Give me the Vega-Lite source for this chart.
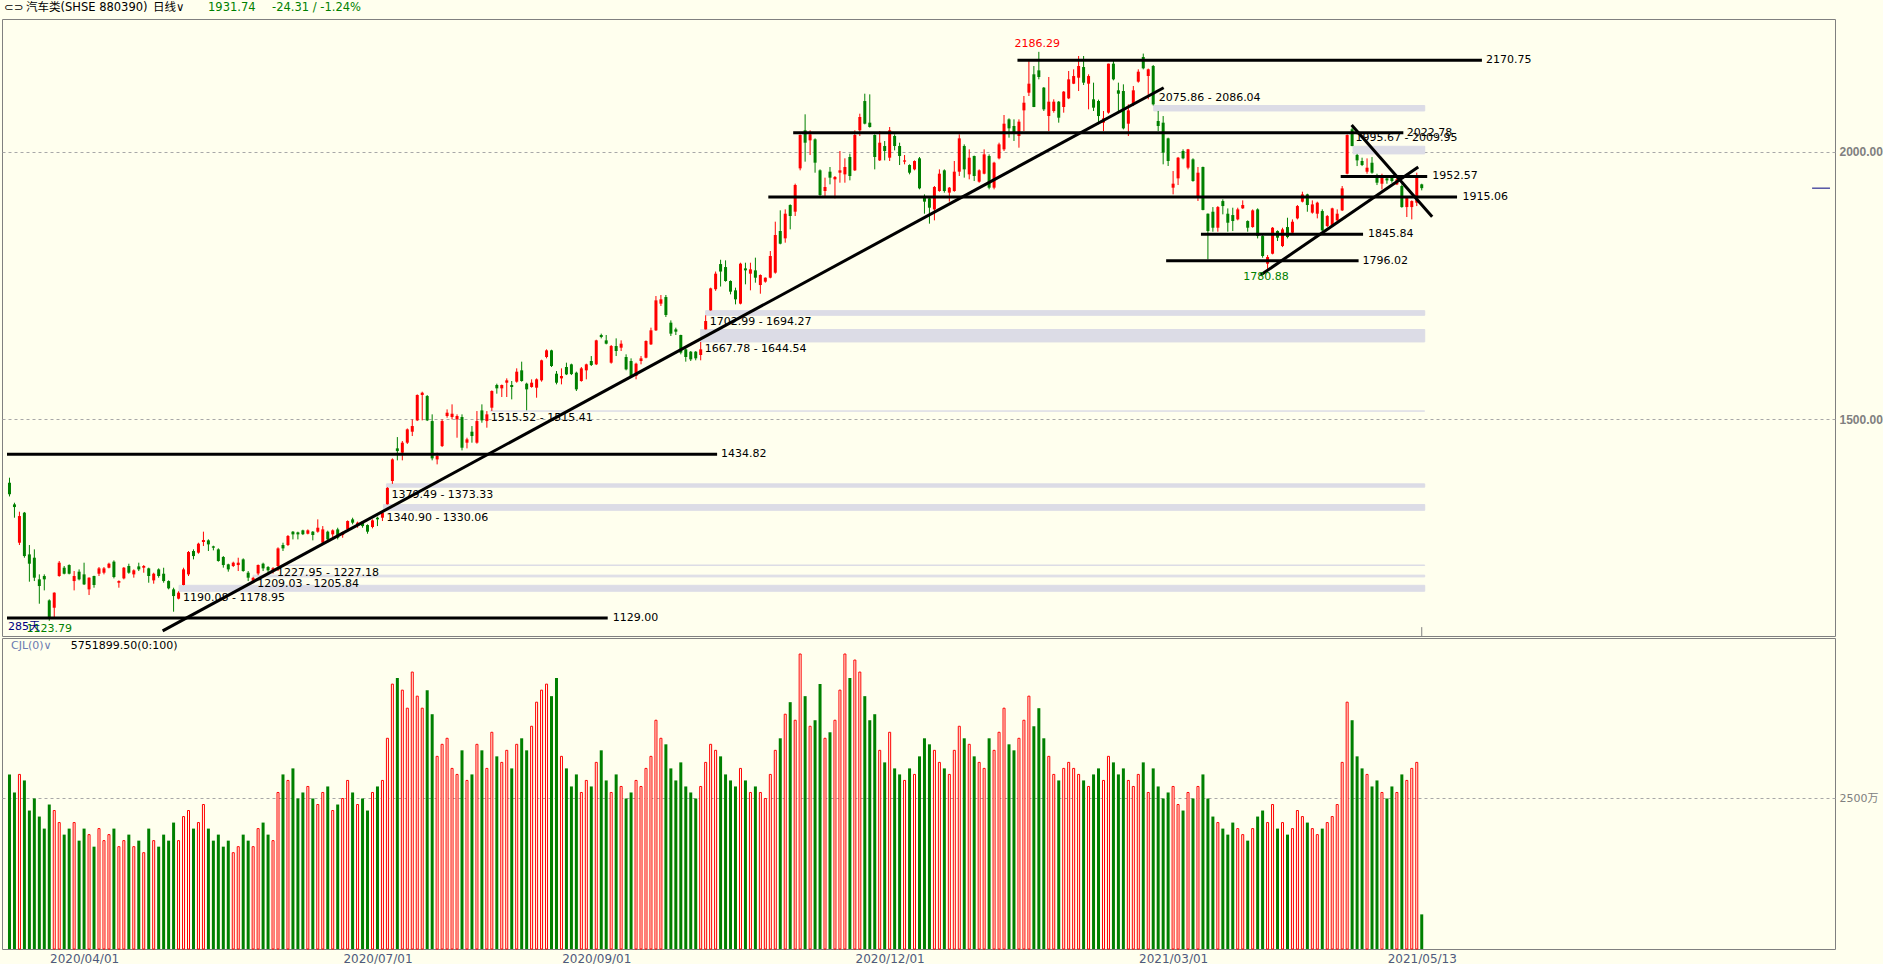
{
"$schema":"https://vega.github.io/schema/vega-lite/v6.json",
"background":"#FFFFEE",
"padding":{"left":1,"top":0,"right":0,"bottom":0},
"spacing":0,
"config":{"view":{"stroke":"#808080","strokeWidth":1},"font":"DejaVu Sans"},
"datasets":{
"k":[
{"i":0,"o":1381.7,"h":1391,"l":1356,"c":1359.9,"v":2900},
{"i":1,"o":1341.2,"h":1344.3,"l":1316.3,"c":1336.2,"v":2600},
{"i":2,"o":1269.6,"h":1327.5,"l":1265.3,"c":1319.4,"v":2900},
{"i":3,"o":1325.7,"h":1327,"l":1241.6,"c":1244.7,"v":2800},
{"i":4,"o":1247.8,"h":1265.3,"l":1196.8,"c":1230.4,"v":2300},
{"i":5,"o":1241.6,"h":1257.2,"l":1198,"c":1204.3,"v":2500},
{"i":6,"o":1201.2,"h":1210.5,"l":1155.7,"c":1188.7,"v":2200},
{"i":7,"o":1207.4,"h":1210.5,"l":1180.6,"c":1201.2,"v":2000},
{"i":8,"o":1161.9,"h":1163.8,"l":1123.8,"c":1129.6,"v":2400},
{"i":9,"o":1148.2,"h":1177,"l":1130.8,"c":1176.3,"v":2300},
{"i":10,"o":1207.4,"h":1235.4,"l":1206,"c":1232.3,"v":2100},
{"i":11,"o":1222.9,"h":1226.1,"l":1210.5,"c":1211.7,"v":1900},
{"i":12,"o":1227.9,"h":1229.2,"l":1210.5,"c":1211.7,"v":2000},
{"i":13,"o":1198,"h":1216.7,"l":1180.6,"c":1207.4,"v":2100},
{"i":14,"o":1215.5,"h":1219.8,"l":1199.3,"c":1201.2,"v":1800},
{"i":15,"o":1210.5,"h":1232.3,"l":1190.6,"c":1191.8,"v":2000},
{"i":16,"o":1182.5,"h":1205,"l":1171.9,"c":1204.3,"v":1900},
{"i":17,"o":1207.4,"h":1208,"l":1185.6,"c":1190.6,"v":1700},
{"i":18,"o":1211.7,"h":1224.2,"l":1207.4,"c":1221.7,"v":2000},
{"i":19,"o":1213.6,"h":1224.2,"l":1210.5,"c":1221.7,"v":1800},
{"i":20,"o":1222.9,"h":1232.3,"l":1221.7,"c":1230.4,"v":1900},
{"i":21,"o":1234.2,"h":1236.6,"l":1203,"c":1205.5,"v":2000},
{"i":22,"o":1194.9,"h":1199.3,"l":1185.6,"c":1198,"v":1700},
{"i":23,"o":1203,"h":1224.2,"l":1201.2,"c":1222.9,"v":1800},
{"i":24,"o":1226.1,"h":1230.4,"l":1211.7,"c":1213.6,"v":1900},
{"i":25,"o":1210.5,"h":1219.8,"l":1204.3,"c":1218,"v":1700},
{"i":26,"o":1225.4,"h":1232.3,"l":1216.7,"c":1219.8,"v":1800},
{"i":27,"o":1222.9,"h":1227.9,"l":1213.6,"c":1226.1,"v":1600},
{"i":28,"o":1221.7,"h":1223,"l":1194.9,"c":1207.4,"v":2000},
{"i":29,"o":1199.3,"h":1213.6,"l":1193.1,"c":1211.7,"v":1800},
{"i":30,"o":1219.8,"h":1221.7,"l":1204.3,"c":1207.4,"v":1700},
{"i":31,"o":1211.7,"h":1222.9,"l":1194.9,"c":1198,"v":1900},
{"i":32,"o":1198,"h":1199.3,"l":1182.5,"c":1184.4,"v":1800},
{"i":33,"o":1182.5,"h":1185.6,"l":1140.8,"c":1170,"v":2100},
{"i":34,"o":1165.1,"h":1178.95,"l":1163.8,"c":1176.3,"v":1800},
{"i":35,"o":1190.6,"h":1222.9,"l":1190.08,"c":1219.8,"v":2200},
{"i":36,"o":1210.5,"h":1254.1,"l":1207.4,"c":1252.2,"v":2300},
{"i":37,"o":1254.1,"h":1257.2,"l":1238.5,"c":1244.7,"v":2000},
{"i":38,"o":1251,"h":1269.6,"l":1249.1,"c":1267.8,"v":2100},
{"i":39,"o":1270.9,"h":1290.2,"l":1263.4,"c":1274.6,"v":2400},
{"i":40,"o":1274,"h":1275.9,"l":1254.1,"c":1266.5,"v":2000},
{"i":41,"o":1262.8,"h":1264,"l":1255.3,"c":1260.3,"v":1800},
{"i":42,"o":1257.2,"h":1259.1,"l":1234.2,"c":1235.4,"v":1900},
{"i":43,"o":1242.9,"h":1244.7,"l":1223,"c":1227.9,"v":1700},
{"i":44,"o":1229.2,"h":1230.4,"l":1215.5,"c":1219.8,"v":1800},
{"i":45,"o":1226.1,"h":1234.2,"l":1224.2,"c":1232.3,"v":1600},
{"i":46,"o":1227.9,"h":1241.6,"l":1216.7,"c":1232.3,"v":1700},
{"i":47,"o":1238.5,"h":1240.4,"l":1215.5,"c":1216.7,"v":1900},
{"i":48,"o":1213.6,"h":1216.7,"l":1198,"c":1204.3,"v":1800},
{"i":49,"o":1198.5,"h":1205.84,"l":1194,"c":1204,"v":1700},
{"i":50,"o":1212,"h":1229,"l":1209.03,"c":1227.9,"v":2000},
{"i":51,"o":1230.4,"h":1232.3,"l":1216.7,"c":1221.7,"v":2100},
{"i":52,"o":1224.2,"h":1226,"l":1214,"c":1218,"v":1900},
{"i":53,"o":1216,"h":1224,"l":1212,"c":1222,"v":1800},
{"i":54,"o":1226,"h":1261,"l":1216.7,"c":1259,"v":2600},
{"i":55,"o":1265.3,"h":1269.6,"l":1254.1,"c":1259,"v":2900},
{"i":56,"o":1265.3,"h":1284,"l":1263.4,"c":1282.1,"v":2800},
{"i":57,"o":1290.2,"h":1291.4,"l":1275.8,"c":1285.2,"v":3000},
{"i":58,"o":1288.9,"h":1290.2,"l":1275.8,"c":1285.2,"v":2500},
{"i":59,"o":1292.7,"h":1293.9,"l":1283.9,"c":1285.5,"v":2600},
{"i":60,"o":1286.4,"h":1294.5,"l":1285.2,"c":1292.7,"v":2700},
{"i":61,"o":1290.2,"h":1291.4,"l":1274,"c":1284,"v":2500},
{"i":62,"o":1290.2,"h":1313.2,"l":1288.3,"c":1297.6,"v":2400},
{"i":63,"o":1269.6,"h":1300.7,"l":1266.5,"c":1294.5,"v":2600},
{"i":64,"o":1290.2,"h":1292.1,"l":1269.6,"c":1275.8,"v":2700},
{"i":65,"o":1285.2,"h":1294.5,"l":1279,"c":1292.7,"v":2300},
{"i":66,"o":1294.5,"h":1297.6,"l":1275.8,"c":1278.9,"v":2400},
{"i":67,"o":1283.9,"h":1290.2,"l":1278.9,"c":1289.5,"v":2500},
{"i":68,"o":1294.5,"h":1311.3,"l":1291.4,"c":1310.1,"v":2800},
{"i":69,"o":1313.2,"h":1316.3,"l":1303.9,"c":1307,"v":2600},
{"i":70,"o":1302.6,"h":1308.9,"l":1297.6,"c":1307,"v":2400},
{"i":71,"o":1308.9,"h":1310.1,"l":1297.6,"c":1300.7,"v":2500},
{"i":72,"o":1302.6,"h":1303.9,"l":1286.4,"c":1290.2,"v":2300},
{"i":73,"o":1298.9,"h":1313.2,"l":1296.4,"c":1311.3,"v":2600},
{"i":74,"o":1316.3,"h":1318.2,"l":1300.7,"c":1313.2,"v":2700},
{"i":75,"o":1316.3,"h":1330.06,"l":1310.1,"c":1325.6,"v":2800},
{"i":76,"o":1341.5,"h":1373.33,"l":1340.9,"c":1372,"v":3500},
{"i":77,"o":1384.8,"h":1427.1,"l":1379.49,"c":1425.2,"v":4400},
{"i":78,"o":1445.8,"h":1466.9,"l":1423.4,"c":1440.8,"v":4500},
{"i":79,"o":1437.7,"h":1459.5,"l":1423.4,"c":1456.4,"v":4300},
{"i":80,"o":1456.4,"h":1483,"l":1454,"c":1481.3,"v":4000},
{"i":81,"o":1476.9,"h":1499.9,"l":1468.8,"c":1487.5,"v":4600},
{"i":82,"o":1498.1,"h":1546.6,"l":1496.8,"c":1545.4,"v":4200},
{"i":83,"o":1545.4,"h":1551.6,"l":1498.1,"c":1549.7,"v":4000},
{"i":84,"o":1543.5,"h":1545.4,"l":1496.8,"c":1498.1,"v":4300},
{"i":85,"o":1496.8,"h":1509.3,"l":1423.4,"c":1427.1,"v":3900},
{"i":86,"o":1425.2,"h":1437.7,"l":1415.9,"c":1431.5,"v":3200},
{"i":87,"o":1450.1,"h":1499.9,"l":1448.3,"c":1496.8,"v":3400},
{"i":88,"o":1506.2,"h":1518.6,"l":1503,"c":1512.4,"v":3500},
{"i":89,"o":1504.3,"h":1528,"l":1499.9,"c":1510.5,"v":3000},
{"i":90,"o":1499.9,"h":1509.3,"l":1465.7,"c":1506.2,"v":2900},
{"i":91,"o":1504.3,"h":1509.3,"l":1442,"c":1447,"v":3300},
{"i":92,"o":1456.4,"h":1465.7,"l":1445.8,"c":1462.6,"v":2800},
{"i":93,"o":1476.9,"h":1487.5,"l":1456.4,"c":1468.8,"v":2900},
{"i":94,"o":1456.4,"h":1515.5,"l":1454.5,"c":1496.8,"v":3400},
{"i":95,"o":1516.7,"h":1528,"l":1493.7,"c":1498.1,"v":3300},
{"i":96,"o":1496.8,"h":1515.41,"l":1484.4,"c":1509.3,"v":3000},
{"i":97,"o":1521.7,"h":1554.1,"l":1515.52,"c":1552.9,"v":3600},
{"i":98,"o":1564.1,"h":1566.6,"l":1547.9,"c":1557.9,"v":3200},
{"i":99,"o":1557.9,"h":1565,"l":1541.7,"c":1564.1,"v":3100},
{"i":100,"o":1568.4,"h":1576.5,"l":1541.7,"c":1572.8,"v":3300},
{"i":101,"o":1564.1,"h":1571.6,"l":1537.3,"c":1560.4,"v":3000},
{"i":102,"o":1570.3,"h":1595.2,"l":1568.4,"c":1589,"v":3400},
{"i":103,"o":1591.5,"h":1607.7,"l":1570.3,"c":1571.6,"v":3500},
{"i":104,"o":1566.6,"h":1568.4,"l":1516.8,"c":1556,"v":3300},
{"i":105,"o":1560.4,"h":1574.7,"l":1559.1,"c":1568.4,"v":3700},
{"i":106,"o":1559.1,"h":1576.5,"l":1540.4,"c":1574.7,"v":4100},
{"i":107,"o":1572.8,"h":1611.4,"l":1570.3,"c":1610.2,"v":4300},
{"i":108,"o":1616.4,"h":1630.7,"l":1613.9,"c":1628.8,"v":4400},
{"i":109,"o":1628.8,"h":1630,"l":1597.7,"c":1599.6,"v":4200},
{"i":110,"o":1585.2,"h":1590.2,"l":1565.3,"c":1568.4,"v":4500},
{"i":111,"o":1576.5,"h":1595.2,"l":1565.3,"c":1580.9,"v":3200},
{"i":112,"o":1597.7,"h":1605.8,"l":1582.7,"c":1584,"v":3000},
{"i":113,"o":1602.7,"h":1604,"l":1582.7,"c":1584.5,"v":2700},
{"i":114,"o":1587.1,"h":1589,"l":1552.9,"c":1556,"v":2900},
{"i":115,"o":1571.6,"h":1597.7,"l":1570.3,"c":1595.2,"v":2600},
{"i":116,"o":1591.5,"h":1604,"l":1574.7,"c":1602.7,"v":2800},
{"i":117,"o":1608.9,"h":1618.2,"l":1599.6,"c":1601.4,"v":2700},
{"i":118,"o":1602.7,"h":1648.7,"l":1601.4,"c":1647.5,"v":3100},
{"i":119,"o":1657.5,"h":1660,"l":1651.2,"c":1653.7,"v":3300},
{"i":120,"o":1647.5,"h":1657.5,"l":1640,"c":1641.3,"v":2800},
{"i":121,"o":1605.8,"h":1638.8,"l":1604,"c":1636.9,"v":2600},
{"i":122,"o":1636.9,"h":1651.2,"l":1618.2,"c":1627.6,"v":2900},
{"i":123,"o":1633.8,"h":1647.5,"l":1627.6,"c":1641.3,"v":2700},
{"i":124,"o":1616.4,"h":1621.4,"l":1591.5,"c":1593.3,"v":2500},
{"i":125,"o":1608.9,"h":1613.9,"l":1577.8,"c":1580.9,"v":2600},
{"i":126,"o":1580.9,"h":1605.8,"l":1574.7,"c":1603.9,"v":2800},
{"i":127,"o":1608.9,"h":1618.2,"l":1602.7,"c":1613.9,"v":2700},
{"i":128,"o":1615.1,"h":1647.5,"l":1613.9,"c":1646.3,"v":3000},
{"i":129,"o":1640,"h":1671.2,"l":1638.8,"c":1666.2,"v":3200},
{"i":130,"o":1666.2,"h":1730.3,"l":1665,"c":1722.2,"v":3800},
{"i":131,"o":1716,"h":1732.2,"l":1711.6,"c":1724.1,"v":3500},
{"i":132,"o":1728.4,"h":1732.2,"l":1691.1,"c":1694.8,"v":3400},
{"i":133,"o":1680.5,"h":1684.8,"l":1655.6,"c":1660,"v":3000},
{"i":134,"o":1668,"h":1671.2,"l":1657.5,"c":1663.7,"v":2800},
{"i":135,"o":1657.5,"h":1658,"l":1621.4,"c":1624.5,"v":3100},
{"i":136,"o":1630.7,"h":1633.8,"l":1607.7,"c":1616.4,"v":2700},
{"i":137,"o":1626.3,"h":1627.6,"l":1608.9,"c":1612,"v":2600},
{"i":138,"o":1626.3,"h":1627.6,"l":1610.2,"c":1613.9,"v":2500},
{"i":139,"o":1620.1,"h":1644.54,"l":1610.2,"c":1630.7,"v":2700},
{"i":140,"o":1668,"h":1694.27,"l":1667.78,"c":1683.6,"v":3100},
{"i":141,"o":1703.5,"h":1745.9,"l":1702.99,"c":1744.6,"v":3400},
{"i":142,"o":1743,"h":1776,"l":1740,"c":1772,"v":3300},
{"i":143,"o":1790,"h":1798,"l":1748,"c":1776,"v":3200},
{"i":144,"o":1784.4,"h":1796.9,"l":1757,"c":1758.3,"v":2900},
{"i":145,"o":1758.3,"h":1759.5,"l":1733.4,"c":1738.4,"v":2800},
{"i":146,"o":1740.9,"h":1745.9,"l":1714.7,"c":1724.1,"v":2700},
{"i":147,"o":1716,"h":1792.5,"l":1714.7,"c":1790.7,"v":3000},
{"i":148,"o":1781.9,"h":1792.5,"l":1752.1,"c":1778.2,"v":2800},
{"i":149,"o":1772,"h":1792.5,"l":1740.9,"c":1780.1,"v":2600},
{"i":150,"o":1778.2,"h":1801.9,"l":1755.2,"c":1764.5,"v":2700},
{"i":151,"o":1750.8,"h":1770.7,"l":1734.6,"c":1769.5,"v":2600},
{"i":152,"o":1757.1,"h":1765,"l":1755.2,"c":1764.5,"v":2500},
{"i":153,"o":1764.5,"h":1814.3,"l":1763.3,"c":1805,"v":2900},
{"i":154,"o":1773.9,"h":1869.1,"l":1772,"c":1844.2,"v":3300},
{"i":155,"o":1851.7,"h":1890.3,"l":1826.8,"c":1828,"v":3500},
{"i":156,"o":1838,"h":1892.1,"l":1829.9,"c":1884,"v":3900},
{"i":157,"o":1900.2,"h":1901.5,"l":1854.8,"c":1879.7,"v":4100},
{"i":158,"o":1887.8,"h":1940.1,"l":1879.7,"c":1937.6,"v":3800},
{"i":159,"o":1968.7,"h":2032.2,"l":1965,"c":2031,"v":4900},
{"i":160,"o":2039.7,"h":2069.6,"l":1981.2,"c":2016.6,"v":4200},
{"i":161,"o":2021,"h":2039.7,"l":1993.6,"c":2032.2,"v":3700},
{"i":162,"o":2022.9,"h":2024.7,"l":1960.6,"c":1979.3,"v":3800},
{"i":163,"o":1965,"h":1966.8,"l":1917,"c":1918.9,"v":4400},
{"i":164,"o":1926.4,"h":1951.3,"l":1917,"c":1933.9,"v":3500},
{"i":165,"o":1962.5,"h":1971.2,"l":1938.8,"c":1951.3,"v":3600},
{"i":166,"o":1948.2,"h":1954.4,"l":1912.7,"c":1952.5,"v":3800},
{"i":167,"o":1960.6,"h":2001.1,"l":1941.9,"c":1965,"v":4300},
{"i":168,"o":1957.5,"h":1987.4,"l":1941.9,"c":1971.2,"v":4900},
{"i":169,"o":1989.9,"h":1996.1,"l":1946.3,"c":1954.4,"v":4500},
{"i":170,"o":1965,"h":2039.7,"l":1963.7,"c":2031,"v":4800},
{"i":171,"o":2039.7,"h":2070.8,"l":2029.1,"c":2064.6,"v":4600},
{"i":172,"o":2094.4,"h":2108.1,"l":2050.9,"c":2052.1,"v":4200},
{"i":173,"o":2054,"h":2106.9,"l":2044.7,"c":2045.9,"v":3800},
{"i":174,"o":2031,"h":2032.2,"l":1966.8,"c":1989.9,"v":3900},
{"i":175,"o":1983.6,"h":2038.4,"l":1982.4,"c":2016.6,"v":3300},
{"i":176,"o":2010.4,"h":2019.7,"l":1983.6,"c":2001.1,"v":3100},
{"i":177,"o":1988.6,"h":2045.9,"l":1982.4,"c":2039.7,"v":3600},
{"i":178,"o":2029.1,"h":2032.2,"l":2002.3,"c":2010.4,"v":3000},
{"i":179,"o":2010.4,"h":2016.6,"l":1974.9,"c":1991.8,"v":2900},
{"i":180,"o":1981.2,"h":1993.6,"l":1976.2,"c":1983.6,"v":2800},
{"i":181,"o":1974.9,"h":1976.2,"l":1957.5,"c":1960.6,"v":3000},
{"i":182,"o":1966.8,"h":1983.6,"l":1965,"c":1982.4,"v":2900},
{"i":183,"o":1987.4,"h":1989.9,"l":1929.5,"c":1931.4,"v":3200},
{"i":184,"o":1917,"h":1920.1,"l":1884,"c":1906.5,"v":3500},
{"i":185,"o":1912.7,"h":1913.9,"l":1865.4,"c":1895.2,"v":3400},
{"i":186,"o":1892.1,"h":1935.7,"l":1871.6,"c":1933.9,"v":3300},
{"i":187,"o":1926.4,"h":1966.8,"l":1925,"c":1958.7,"v":3100},
{"i":188,"o":1965,"h":1966.8,"l":1923.3,"c":1926.4,"v":3000},
{"i":189,"o":1923.3,"h":1933.9,"l":1906.5,"c":1932.6,"v":2900},
{"i":190,"o":1926.4,"h":1982.4,"l":1925,"c":1962.5,"v":3300},
{"i":191,"o":1962.5,"h":2032.2,"l":1954.4,"c":2024.7,"v":3700},
{"i":192,"o":2010.4,"h":2013.5,"l":1951.3,"c":1966.8,"v":3500},
{"i":193,"o":1957.5,"h":2004.2,"l":1948.2,"c":1988.6,"v":3400},
{"i":194,"o":1991.7,"h":1992.5,"l":1945,"c":1954.4,"v":3200},
{"i":195,"o":1943.8,"h":1966.8,"l":1941.9,"c":1965,"v":3100},
{"i":196,"o":1958.7,"h":2004.2,"l":1957.5,"c":1994.8,"v":3000},
{"i":197,"o":1991.7,"h":1994.8,"l":1929.5,"c":1932.6,"v":3500},
{"i":198,"o":1932.6,"h":1981,"l":1929.5,"c":1979.3,"v":3300},
{"i":199,"o":1987.4,"h":2016.6,"l":1985.5,"c":2013.5,"v":3600},
{"i":200,"o":2004.2,"h":2068.3,"l":2001.1,"c":2052.1,"v":4000},
{"i":201,"o":2060.2,"h":2062.1,"l":2026,"c":2043.4,"v":3400},
{"i":202,"o":2047.8,"h":2060.2,"l":2019.8,"c":2035.3,"v":3300},
{"i":203,"o":2029.1,"h":2060.2,"l":2007.3,"c":2055.9,"v":3500},
{"i":204,"o":2077,"h":2103.8,"l":2038.4,"c":2091.3,"v":3800},
{"i":205,"o":2110,"h":2170.4,"l":2103.8,"c":2126.8,"v":4200},
{"i":206,"o":2144.3,"h":2159.8,"l":2083,"c":2083.3,"v":3700},
{"i":207,"o":2151.7,"h":2186.29,"l":2134.9,"c":2139.3,"v":4000},
{"i":208,"o":2119.4,"h":2120.6,"l":2075.8,"c":2078.9,"v":3500},
{"i":209,"o":2066.4,"h":2139.3,"l":2038.4,"c":2093.2,"v":3200},
{"i":210,"o":2075.8,"h":2097.6,"l":2072.7,"c":2093.2,"v":2900},
{"i":211,"o":2093.2,"h":2094.5,"l":2054,"c":2063.3,"v":2800},
{"i":212,"o":2083.3,"h":2113.1,"l":2072.7,"c":2111.9,"v":3000},
{"i":213,"o":2099.4,"h":2150.5,"l":2098,"c":2134.9,"v":3100},
{"i":214,"o":2126.8,"h":2153.6,"l":2126,"c":2141.1,"v":3000},
{"i":215,"o":2138,"h":2178.5,"l":2113.1,"c":2159.8,"v":2900},
{"i":216,"o":2157.9,"h":2178.5,"l":2124.3,"c":2128.7,"v":2800},
{"i":217,"o":2126.8,"h":2144.3,"l":2078.9,"c":2141.1,"v":2700},
{"i":218,"o":2097.6,"h":2128.7,"l":2075.8,"c":2082,"v":2900},
{"i":219,"o":2094.5,"h":2097,"l":2050.9,"c":2066.4,"v":3000},
{"i":220,"o":2054,"h":2075.8,"l":2038.4,"c":2062.1,"v":2800},
{"i":221,"o":2072.7,"h":2164.2,"l":2070.8,"c":2164.2,"v":3200},
{"i":222,"o":2164.2,"h":2172.3,"l":2133,"c":2134.9,"v":3100},
{"i":223,"o":2114.4,"h":2128.7,"l":2072.7,"c":2108.1,"v":2900},
{"i":224,"o":2113.1,"h":2125.6,"l":2041.5,"c":2043.4,"v":3000},
{"i":225,"o":2052.1,"h":2088.2,"l":2029.1,"c":2077,"v":2800},
{"i":226,"o":2087,"h":2122.5,"l":2085,"c":2114.4,"v":2700},
{"i":227,"o":2130.6,"h":2153.6,"l":2128.7,"c":2149.2,"v":2900},
{"i":228,"o":2176.6,"h":2183,"l":2153.6,"c":2155.5,"v":3100},
{"i":229,"o":2141.1,"h":2155,"l":2097.6,"c":2153.6,"v":2600},
{"i":230,"o":2159.8,"h":2161.7,"l":2086.04,"c":2088.2,"v":3000},
{"i":231,"o":2057.1,"h":2075.86,"l":2038.4,"c":2047.8,"v":2700},
{"i":232,"o":2054,"h":2066.4,"l":1976.2,"c":1998,"v":2500},
{"i":233,"o":2024.7,"h":2026,"l":1973.1,"c":1982.4,"v":2600},
{"i":234,"o":1932.6,"h":1963.7,"l":1920.1,"c":1940.1,"v":2700},
{"i":235,"o":1950,"h":1990,"l":1937.6,"c":1988.6,"v":2400},
{"i":236,"o":2001.1,"h":2004.2,"l":1985.5,"c":1987.4,"v":2300},
{"i":237,"o":1969.9,"h":2005,"l":1966.8,"c":2004.2,"v":2600},
{"i":238,"o":1985.5,"h":1987.4,"l":1943.8,"c":1945,"v":2500},
{"i":239,"o":1913.9,"h":1971.2,"l":1907.7,"c":1960.6,"v":2700},
{"i":240,"o":1971.2,"h":1972,"l":1890.3,"c":1891,"v":2900},
{"i":241,"o":1884,"h":1884.5,"l":1798.7,"c":1851.6,"v":2500},
{"i":242,"o":1887.7,"h":1896.4,"l":1850.4,"c":1857.8,"v":2200},
{"i":243,"o":1857.8,"h":1898.3,"l":1850.4,"c":1896.4,"v":2100},
{"i":244,"o":1907.6,"h":1910.8,"l":1882.8,"c":1898.3,"v":2000},
{"i":245,"o":1884,"h":1893.9,"l":1850.4,"c":1867.2,"v":1900},
{"i":246,"o":1881.5,"h":1895.2,"l":1851.6,"c":1870.3,"v":2100},
{"i":247,"o":1873.4,"h":1895.2,"l":1871.6,"c":1892.1,"v":2000},
{"i":248,"o":1894,"h":1908.9,"l":1893,"c":1900.2,"v":1900},
{"i":249,"o":1870.3,"h":1871.6,"l":1850.4,"c":1857.8,"v":1800},
{"i":250,"o":1859.1,"h":1892.1,"l":1857.8,"c":1890.2,"v":2000},
{"i":251,"o":1892.1,"h":1894,"l":1837.9,"c":1842.3,"v":2200},
{"i":252,"o":1842.3,"h":1845.4,"l":1801.8,"c":1805,"v":2300},
{"i":253,"o":1790.6,"h":1806.8,"l":1780.88,"c":1803.1,"v":2100},
{"i":254,"o":1809.3,"h":1859.1,"l":1808.1,"c":1857.8,"v":2400},
{"i":255,"o":1851.6,"h":1852.9,"l":1833,"c":1839.2,"v":2000},
{"i":256,"o":1823.6,"h":1857.8,"l":1821.7,"c":1854.7,"v":2100},
{"i":257,"o":1859.1,"h":1876.5,"l":1837.9,"c":1840.4,"v":1900},
{"i":258,"o":1848.5,"h":1873.4,"l":1845.4,"c":1869,"v":2000},
{"i":259,"o":1875.3,"h":1900.2,"l":1873.4,"c":1898.3,"v":2300},
{"i":260,"o":1906.4,"h":1925.1,"l":1905,"c":1920.1,"v":2200},
{"i":261,"o":1920.1,"h":1921.3,"l":1887.7,"c":1900.2,"v":2100},
{"i":262,"o":1885.9,"h":1908.9,"l":1884,"c":1901.4,"v":2000},
{"i":263,"o":1884,"h":1906.4,"l":1875.3,"c":1904.6,"v":1900},
{"i":264,"o":1889,"h":1892.1,"l":1851.6,"c":1852.9,"v":2000},
{"i":265,"o":1861,"h":1881.5,"l":1859.1,"c":1879.6,"v":2100},
{"i":266,"o":1862.8,"h":1895.2,"l":1861,"c":1894,"v":2200},
{"i":267,"o":1871.6,"h":1892.1,"l":1870.3,"c":1884,"v":2400},
{"i":268,"o":1890.2,"h":1935.7,"l":1889,"c":1931.3,"v":3100},
{"i":269,"o":1958.7,"h":2032.2,"l":1957.5,"c":2030.9,"v":4100},
{"i":270,"o":2041.5,"h":2044.6,"l":2009.95,"c":2010.4,"v":3800},
{"i":271,"o":1993.6,"h":1995.67,"l":1973,"c":1983.6,"v":3200},
{"i":272,"o":1982.4,"h":1988.6,"l":1973,"c":1974.9,"v":3000},
{"i":273,"o":1962.4,"h":1987.3,"l":1958.7,"c":1969.9,"v":2900},
{"i":274,"o":1979.2,"h":1989.8,"l":1958.7,"c":1960.6,"v":2700},
{"i":275,"o":1952.5,"h":1958.7,"l":1937.5,"c":1941.9,"v":2800},
{"i":276,"o":1940,"h":1958.7,"l":1929.4,"c":1956.2,"v":2600},
{"i":277,"o":1950,"h":1954.4,"l":1940,"c":1946.2,"v":2500},
{"i":278,"o":1951.2,"h":1956.2,"l":1941.9,"c":1945,"v":2700},
{"i":279,"o":1938.8,"h":1954.4,"l":1937.5,"c":1948.1,"v":2600},
{"i":280,"o":1935.7,"h":1938.8,"l":1895.2,"c":1896.4,"v":2900},
{"i":281,"o":1896.4,"h":1915.1,"l":1877.8,"c":1913.9,"v":2800},
{"i":282,"o":1896.4,"h":1908.9,"l":1873.4,"c":1907.6,"v":3000},
{"i":283,"o":1904.6,"h":1960.6,"l":1898.3,"c":1956.05,"v":3100},
{"i":284,"o":1938.8,"h":1940,"l":1927.6,"c":1931.74,"v":575.19}
],
"lines":[
{"x1":-0.5,"x2":142.3,"y1":1434.82,"y2":1434.82},
{"x1":-0.5,"x2":120.3,"y1":1129,"y2":1129},
{"x1":202.7,"x2":296.1,"y1":2170.75,"y2":2170.75},
{"x1":157.6,"x2":280.3,"y1":2035,"y2":2035},
{"x1":152.6,"x2":291.1,"y1":1915.06,"y2":1915.06},
{"x1":267.7,"x2":285.1,"y1":1953.5,"y2":1953.5},
{"x1":239.6,"x2":272.2,"y1":1845.84,"y2":1845.84},
{"x1":232.6,"x2":271.3,"y1":1796.02,"y2":1796.02},
{"x1":30.8,"x2":232.1,"y1":1105,"y2":2119.3},
{"x1":251.6,"x2":283.3,"y1":1769.5,"y2":1971.2},
{"x1":269.9,"x2":286.1,"y1":2049.6,"y2":1878.4}
],
"gaps":[
{"x1":34.1,"x2":284.6,"lo":1178.95,"hi":1190.08},
{"x1":49.0,"x2":284.6,"lo":1205.84,"hi":1209.03},
{"x1":54.6,"x2":284.6,"lo":1227.18,"hi":1227.95},
{"x1":75.2,"x2":284.6,"lo":1330.06,"hi":1340.9},
{"x1":75.8,"x2":284.6,"lo":1373.33,"hi":1379.49},
{"x1":96.6,"x2":284.6,"lo":1515.41,"hi":1515.52},
{"x1":139.0,"x2":284.6,"lo":1644.54,"hi":1667.78},
{"x1":140.0,"x2":284.6,"lo":1694.27,"hi":1702.99},
{"x1":230.1,"x2":284.6,"lo":2075.86,"hi":2086.04},
{"x1":270.2,"x2":284.6,"lo":1995.67,"hi":2009.95}
],
"labs":[
{"x":143.1,"y":1434.8,"t":"1434.82","col":"#000000"},
{"x":121.3,"y":1129,"t":"1129.00","col":"#000000"},
{"x":296.9,"y":2170.75,"t":"2170.75","col":"#000000"},
{"x":281,"y":2035.2,"t":"2022.78","col":"#000000"},
{"x":270.7,"y":2024.8,"t":"1995.67 - 2009.95","col":"#000000"},
{"x":286.1,"y":1953.8,"t":"1952.57","col":"#000000"},
{"x":292.2,"y":1915.7,"t":"1915.06","col":"#000000"},
{"x":273.2,"y":1845.84,"t":"1845.84","col":"#000000"},
{"x":272.1,"y":1796.02,"t":"1796.02","col":"#000000"},
{"x":231.1,"y":2100.6,"t":"2075.86 - 2086.04","col":"#000000"},
{"x":140.8,"y":1682.3,"t":"1702.99 - 1694.27","col":"#000000"},
{"x":139.8,"y":1630.8,"t":"1667.78 - 1644.54","col":"#000000"},
{"x":96.8,"y":1503,"t":"1515.52 - 1515.41","col":"#000000"},
{"x":76.8,"y":1358.7,"t":"1379.49 - 1373.33","col":"#000000"},
{"x":75.8,"y":1316.3,"t":"1340.90 - 1330.06","col":"#000000"},
{"x":53.8,"y":1213.6,"t":"1227.95 - 1227.18","col":"#000000"},
{"x":49.8,"y":1191.9,"t":"1209.03 - 1205.84","col":"#000000"},
{"x":34.9,"y":1165.8,"t":"1190.08 - 1178.95","col":"#000000"},
{"x":3.4,"y":1108.5,"t":"1123.79","col":"#008000"},
{"x":-0.3,"y":1112.6,"t":"285天","col":"#000080"}
],
"clabs":[
{"x":206.7,"y":2200.3,"t":"2186.29","col":"#FF0000"},
{"x":252.7,"y":1766.5,"t":"1780.88","col":"#008000"}
],
"pmark":[
{"x1":362.5,"x2":366.1,"y1":1931.74,"y2":1931.74,"col":"#000080"},
{"x1":284,"x2":284,"y1":1095.4,"y2":1112,"col":"#808080"}
],
"hdr":[
{"x":-0.1,"y":0.55,"t":"⊂⊃","col":"#000000"},
{"x":4.3,"y":0.55,"t":"汽车类(SHSE 880390)","col":"#000000"},
{"x":29.7,"y":0.55,"t":"日线∨","col":"#000000"},
{"x":40.7,"y":0.55,"t":"1931.74","col":"#008000"},
{"x":53.5,"y":0.55,"t":"-24.31 / -1.24%","col":"#008000"}
],
"vhdr":[
{"x":0.3,"y":5030,"t":"CJL(0)∨","col":"#6A7AB0"},
{"x":12.3,"y":5030,"t":"5751899.50(0:100)","col":"#000000"}
]
},
"vconcat":[
{"width":1833,"height":18,"view":{"stroke":null},"data":{"name":"hdr"},
 "mark":{"type":"text","align":"left","baseline":"middle","fontSize":11.5,"font":"DejaVu Sans, Noto Sans CJK SC"},
 "encoding":{
  "x":{"field":"x","type":"quantitative","scale":{"domain":[-0.5,366.1]},"axis":null},
  "y":{"field":"y","type":"quantitative","scale":{"domain":[0,1]},"axis":null},
  "text":{"field":"t"},
  "color":{"field":"col","type":"nominal","scale":null}}},
{"width":1833,"height":617,
 "layer":[
 {"data":{"name":"gaps"},"mark":{"type":"rect","fill":"#DCDCE6","stroke":"#DCDCE6","strokeWidth":1},
  "encoding":{
   "x":{"field":"x1","type":"quantitative","scale":{"domain":[-0.5,366.1]},"axis":null},
   "x2":{"field":"x2"},
   "y":{"field":"lo","type":"quantitative","scale":{"domain":[1095.4,2247.6],"zero":false,"nice":false},
    "axis":{"orient":"right","values":[1500,2000],"format":".2f","grid":true,"gridDash":[3,3],"gridColor":"#A8A8A8","ticks":false,"domain":false,"labelColor":"#808080","labelFont":"Liberation Sans","labelFontWeight":"bold","labelFontSize":12,"labelPadding":4,"title":null}},
   "y2":{"field":"hi"}}},
 {"data":{"name":"k"},"mark":{"type":"rule","strokeWidth":1},
  "encoding":{
   "x":{"field":"i","type":"quantitative","scale":{"domain":[-0.5,366.1]},"axis":null},
   "y":{"field":"l","type":"quantitative","scale":{"domain":[1095.4,2247.6],"zero":false,"nice":false},
    "axis":{"orient":"right","values":[1500,2000],"format":".2f","grid":true,"gridDash":[3,3],"gridColor":"#A8A8A8","ticks":false,"domain":false,"labelColor":"#808080","labelFont":"Liberation Sans","labelFontWeight":"bold","labelFontSize":12,"labelPadding":4,"title":null}},
   "y2":{"field":"h"},
   "color":{"condition":{"test":"datum.c>=datum.o","value":"#FF0000"},"value":"#008000"}}},
 {"data":{"name":"k"},"mark":{"type":"bar","width":3},
  "encoding":{
   "x":{"field":"i","type":"quantitative","scale":{"domain":[-0.5,366.1]},"axis":null},
   "y":{"field":"o","type":"quantitative","scale":{"domain":[1095.4,2247.6],"zero":false,"nice":false},
    "axis":{"orient":"right","values":[1500,2000],"format":".2f","grid":true,"gridDash":[3,3],"gridColor":"#A8A8A8","ticks":false,"domain":false,"labelColor":"#808080","labelFont":"Liberation Sans","labelFontWeight":"bold","labelFontSize":12,"labelPadding":4,"title":null}},
   "y2":{"field":"c"},
   "color":{"condition":{"test":"datum.c>=datum.o","value":"#FF0000"},"value":"#008000"}}},
 {"data":{"name":"lines"},"mark":{"type":"rule","strokeWidth":3,"color":"#000000"},
  "encoding":{
   "x":{"field":"x1","type":"quantitative","scale":{"domain":[-0.5,366.1]},"axis":null},
   "x2":{"field":"x2"},
   "y":{"field":"y1","type":"quantitative","scale":{"domain":[1095.4,2247.6],"zero":false,"nice":false},
    "axis":{"orient":"right","values":[1500,2000],"format":".2f","grid":true,"gridDash":[3,3],"gridColor":"#A8A8A8","ticks":false,"domain":false,"labelColor":"#808080","labelFont":"Liberation Sans","labelFontWeight":"bold","labelFontSize":12,"labelPadding":4,"title":null}},
   "y2":{"field":"y2"}}},
 {"data":{"name":"pmark"},"mark":{"type":"rule","strokeWidth":1},
  "encoding":{
   "x":{"field":"x1","type":"quantitative","scale":{"domain":[-0.5,366.1]},"axis":null},
   "x2":{"field":"x2"},
   "y":{"field":"y1","type":"quantitative","scale":{"domain":[1095.4,2247.6],"zero":false,"nice":false},
    "axis":{"orient":"right","values":[1500,2000],"format":".2f","grid":true,"gridDash":[3,3],"gridColor":"#A8A8A8","ticks":false,"domain":false,"labelColor":"#808080","labelFont":"Liberation Sans","labelFontWeight":"bold","labelFontSize":12,"labelPadding":4,"title":null}},
   "y2":{"field":"y2"},
   "color":{"field":"col","type":"nominal","scale":null}}},
 {"data":{"name":"labs"},"mark":{"type":"text","align":"left","baseline":"middle","fontSize":11,"font":"DejaVu Sans, Noto Sans CJK SC"},
  "encoding":{
   "x":{"field":"x","type":"quantitative","scale":{"domain":[-0.5,366.1]},"axis":null},
   "y":{"field":"y","type":"quantitative","scale":{"domain":[1095.4,2247.6],"zero":false,"nice":false},
    "axis":{"orient":"right","values":[1500,2000],"format":".2f","grid":true,"gridDash":[3,3],"gridColor":"#A8A8A8","ticks":false,"domain":false,"labelColor":"#808080","labelFont":"Liberation Sans","labelFontWeight":"bold","labelFontSize":12,"labelPadding":4,"title":null}},
   "text":{"field":"t"},
   "color":{"field":"col","type":"nominal","scale":null}}},
 {"data":{"name":"clabs"},"mark":{"type":"text","align":"center","baseline":"middle","fontSize":11,"font":"DejaVu Sans"},
  "encoding":{
   "x":{"field":"x","type":"quantitative","scale":{"domain":[-0.5,366.1]},"axis":null},
   "y":{"field":"y","type":"quantitative","scale":{"domain":[1095.4,2247.6],"zero":false,"nice":false},
    "axis":{"orient":"right","values":[1500,2000],"format":".2f","grid":true,"gridDash":[3,3],"gridColor":"#A8A8A8","ticks":false,"domain":false,"labelColor":"#808080","labelFont":"Liberation Sans","labelFontWeight":"bold","labelFontSize":12,"labelPadding":4,"title":null}},
   "text":{"field":"t"},
   "color":{"field":"col","type":"nominal","scale":null}}}
 ]},
{"width":1833,"height":311,
 "layer":[
 {"data":{"name":"k"},"transform":[{"filter":"datum.c<datum.o"}],"mark":{"type":"bar","width":3,"color":"#008000"},
  "encoding":{
   "x":{"field":"i","type":"quantitative","scale":{"domain":[-0.5,366.1]},
    "axis":{"orient":"bottom","values":[15,74,118,177,234,284],"labelExpr":"datum.value==15?'2020/04/01':datum.value==74?'2020/07/01':datum.value==118?'2020/09/01':datum.value==177?'2020/12/01':datum.value==234?'2021/03/01':'2021/05/13'","ticks":false,"domain":false,"grid":false,"labelColor":"#4E5A7E","labelFont":"DejaVu Sans","labelFontSize":12,"labelPadding":4,"labelOverlap":false,"labelFlush":false,"title":null}},
   "y":{"field":"v","type":"quantitative","scale":{"domain":[0,5166],"nice":false},
    "axis":{"orient":"right","values":[2500],"labelExpr":"'2500万'","grid":true,"gridDash":[3,3],"gridColor":"#A8A8A8","ticks":false,"domain":false,"labelColor":"#808080","labelFont":"DejaVu Sans, Noto Sans CJK SC","labelFontSize":11,"labelPadding":4,"title":null}}}},
 {"data":{"name":"k"},"transform":[{"filter":"datum.c>=datum.o"}],"mark":{"type":"bar","width":2,"fill":"#FFFFEE","stroke":"#FF0000","strokeWidth":1},
  "encoding":{
   "x":{"field":"i","type":"quantitative","scale":{"domain":[-0.5,366.1]},
    "axis":{"orient":"bottom","values":[15,74,118,177,234,284],"labelExpr":"datum.value==15?'2020/04/01':datum.value==74?'2020/07/01':datum.value==118?'2020/09/01':datum.value==177?'2020/12/01':datum.value==234?'2021/03/01':'2021/05/13'","ticks":false,"domain":false,"grid":false,"labelColor":"#4E5A7E","labelFont":"DejaVu Sans","labelFontSize":12,"labelPadding":4,"labelOverlap":false,"labelFlush":false,"title":null}},
   "y":{"field":"v","type":"quantitative","scale":{"domain":[0,5166],"nice":false},
    "axis":{"orient":"right","values":[2500],"labelExpr":"'2500万'","grid":true,"gridDash":[3,3],"gridColor":"#A8A8A8","ticks":false,"domain":false,"labelColor":"#808080","labelFont":"DejaVu Sans, Noto Sans CJK SC","labelFontSize":11,"labelPadding":4,"title":null}}}},
 {"data":{"name":"vhdr"},"mark":{"type":"text","align":"left","baseline":"middle","fontSize":11,"font":"DejaVu Sans"},
  "encoding":{
   "x":{"field":"x","type":"quantitative","scale":{"domain":[-0.5,366.1]},
    "axis":{"orient":"bottom","values":[15,74,118,177,234,284],"labelExpr":"datum.value==15?'2020/04/01':datum.value==74?'2020/07/01':datum.value==118?'2020/09/01':datum.value==177?'2020/12/01':datum.value==234?'2021/03/01':'2021/05/13'","ticks":false,"domain":false,"grid":false,"labelColor":"#4E5A7E","labelFont":"DejaVu Sans","labelFontSize":12,"labelPadding":4,"labelOverlap":false,"labelFlush":false,"title":null}},
   "y":{"field":"y","type":"quantitative","scale":{"domain":[0,5166],"nice":false},
    "axis":{"orient":"right","values":[2500],"labelExpr":"'2500万'","grid":true,"gridDash":[3,3],"gridColor":"#A8A8A8","ticks":false,"domain":false,"labelColor":"#808080","labelFont":"DejaVu Sans, Noto Sans CJK SC","labelFontSize":11,"labelPadding":4,"title":null}},
   "text":{"field":"t"},
   "color":{"field":"col","type":"nominal","scale":null}}}
 ]}
]
}
